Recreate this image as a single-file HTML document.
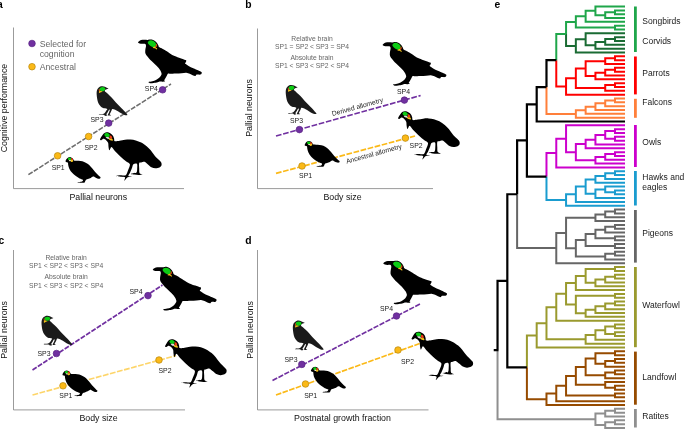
<!DOCTYPE html>
<html><head><meta charset="utf-8"><title>Figure</title>
<style>
html,body{margin:0;padding:0;background:#fff;}
body{width:685px;height:429px;overflow:hidden;font-family:"Liberation Sans",sans-serif;}
svg{display:block}
text{font-family:"Liberation Sans",sans-serif;}
.tl{font-size:8.5px;fill:#1a1a1a}
.pl{font-size:10.3px;font-weight:bold;fill:#000}
.ax{font-size:8.8px;fill:#111}
.lg{font-size:8.7px;fill:#666}
.sp{font-size:6.9px;fill:#1a1a1a}
.gt{font-size:6.75px;fill:#666}
.al{font-size:6.8px;fill:#222}
</style></head><body>
<svg width="685" height="429" viewBox="0 0 685 429">
<defs>
<g id="raven"><path d="M0.12 2.51C0.03 2.13 0.64 1.62 1.16 1.24C1.68 0.86 2.37 0.42 3.22 0.21C4.08 -0.01 5.18 -0.03 6.29 -0.05C7.40 -0.07 8.96 0.15 9.90 0.11C10.84 0.07 11.16 -0.25 11.93 -0.30C12.70 -0.35 13.63 -0.41 14.49 -0.20C15.35 0.01 16.30 0.44 17.07 0.98C17.84 1.52 18.56 2.30 19.11 3.03C19.66 3.76 20.05 4.66 20.39 5.34C20.73 6.02 20.61 6.62 21.17 7.13C21.73 7.64 22.79 7.90 23.73 8.41C24.67 8.92 25.41 9.36 26.80 10.21C28.19 11.06 30.39 12.52 32.04 13.52C33.69 14.52 34.95 15.38 36.70 16.20C38.45 17.02 40.88 17.81 42.53 18.41C44.18 19.01 45.63 19.46 46.60 19.81C47.57 20.16 48.16 20.06 48.35 20.51C48.55 20.96 47.96 21.97 47.77 22.49C47.58 23.01 46.70 23.07 47.19 23.65C47.67 24.23 49.32 25.20 50.68 25.98C52.04 26.76 53.69 27.53 55.34 28.31C56.99 29.09 59.22 30.00 60.58 30.64C61.94 31.28 62.98 31.67 63.50 32.16C64.03 32.65 63.92 33.13 63.73 33.56C63.53 33.99 63.14 34.53 62.33 34.72C61.52 34.91 59.66 34.49 58.84 34.72C58.03 34.95 58.12 36.02 57.44 36.12C56.76 36.22 55.69 35.69 54.76 35.30C53.83 34.91 52.92 34.22 51.85 33.79C50.78 33.36 49.71 32.82 48.35 32.74C46.99 32.66 45.44 33.18 43.69 33.32C41.94 33.46 39.81 33.48 37.87 33.56C35.93 33.64 33.36 33.75 32.04 33.79C30.72 33.83 30.43 33.54 29.94 33.79C29.46 34.04 29.44 34.72 29.13 35.30C28.82 35.88 28.45 36.60 28.08 37.28C27.71 37.96 27.22 38.84 26.91 39.38C26.60 39.93 26.17 40.28 26.21 40.55C26.25 40.82 27.07 40.82 27.15 41.01C27.23 41.20 27.13 41.57 26.68 41.71C26.23 41.85 25.23 41.85 24.47 41.83C23.71 41.81 22.92 41.51 22.14 41.59C21.36 41.67 20.88 42.06 19.81 42.29C18.74 42.52 17.03 42.83 15.73 42.99C14.43 43.15 12.86 43.36 12.00 43.23C11.14 43.09 10.17 42.49 10.60 42.18C11.03 41.87 13.32 41.69 14.56 41.36C15.80 41.03 16.99 40.72 18.06 40.20C19.13 39.68 20.15 38.94 20.97 38.22C21.79 37.50 22.50 36.67 22.95 35.89C23.40 35.11 23.78 34.53 23.65 33.56C23.52 32.59 22.78 31.13 22.14 30.06C21.50 28.99 20.88 28.31 19.81 27.15C18.74 25.98 16.99 24.29 15.73 23.07C14.47 21.85 13.33 20.97 12.23 19.81C11.13 18.65 9.89 17.15 9.11 16.11C8.33 15.07 7.87 14.32 7.57 13.55C7.27 12.78 7.32 12.26 7.32 11.49C7.32 10.72 7.44 9.79 7.57 8.93C7.70 8.07 8.05 7.09 8.09 6.36C8.13 5.63 8.04 5.00 7.83 4.57C7.62 4.14 7.40 3.91 6.80 3.80C6.20 3.69 5.09 3.94 4.24 3.90C3.39 3.86 2.37 3.77 1.68 3.54C0.99 3.31 0.21 2.89 0.12 2.51Z" fill="#000"/><path d="M9.88 2.77C9.80 2.17 10.14 1.62 10.65 1.24C11.16 0.86 12.15 0.51 12.96 0.47C13.77 0.43 14.75 0.60 15.52 0.98C16.29 1.36 17.13 2.13 17.58 2.77C18.02 3.41 18.23 4.18 18.19 4.82C18.15 5.46 17.81 6.21 17.32 6.62C16.83 7.03 15.99 7.32 15.26 7.28C14.53 7.24 13.64 6.77 12.96 6.36C12.28 5.95 11.67 5.42 11.16 4.82C10.65 4.22 9.96 3.37 9.88 2.77Z" fill="#0ccc14"/><path d="M18.19 3.80C18.34 3.76 18.97 4.14 19.11 4.57C19.25 5.00 19.22 5.87 19.01 6.36C18.80 6.85 18.11 7.45 17.83 7.49C17.55 7.53 17.26 7.07 17.32 6.62C17.38 6.17 18.05 5.29 18.19 4.82C18.34 4.35 18.04 3.84 18.19 3.80Z" fill="#e04a12"/><path d="M15.26 7.28C15.64 7.05 16.89 6.58 17.32 6.62C17.75 6.66 17.53 7.19 17.83 7.49C18.13 7.79 18.94 8.07 19.11 8.41C19.28 8.75 19.20 9.54 18.86 9.54C18.52 9.54 17.71 8.67 17.07 8.41C16.43 8.15 15.32 8.19 15.02 8.00C14.72 7.81 14.88 7.51 15.26 7.28Z" fill="#f2c21a"/></g>
<g id="jack"><path d="M2.14 1.30C2.53 0.99 2.92 0.59 3.54 0.37C4.16 0.15 5.09 -0.03 5.87 -0.00C6.65 0.03 7.50 0.31 8.20 0.56C8.90 0.81 9.50 1.21 10.07 1.49C10.64 1.77 11.65 1.99 11.65 2.24C11.65 2.49 10.57 2.75 10.07 2.98C9.57 3.21 8.98 3.29 8.67 3.63C8.36 3.97 7.94 4.49 8.20 5.03C8.46 5.58 9.44 6.15 10.25 6.90C11.06 7.65 12.06 8.53 13.05 9.51C14.04 10.49 15.19 11.65 16.22 12.77C17.24 13.89 18.13 15.05 19.20 16.22C20.27 17.38 21.53 18.63 22.65 19.76C23.77 20.89 24.93 22.00 25.91 23.02C26.89 24.04 27.74 25.02 28.52 25.91C29.30 26.80 30.31 27.80 30.57 28.33C30.83 28.86 30.57 29.00 30.10 29.08C29.63 29.16 28.62 29.08 27.77 28.80C26.92 28.52 26.07 28.02 24.98 27.40C23.89 26.78 22.34 25.72 21.25 25.07C20.16 24.42 19.38 23.88 18.45 23.49C17.52 23.10 16.25 22.63 15.66 22.74C15.07 22.85 15.22 23.52 14.91 24.14C14.60 24.76 14.10 25.77 13.79 26.47C13.48 27.17 12.89 27.89 13.05 28.33C13.21 28.76 15.00 28.92 14.73 29.08C14.46 29.23 12.05 29.35 11.46 29.26C10.87 29.17 11.05 28.98 11.18 28.52C11.30 28.05 11.90 27.20 12.21 26.47C12.52 25.74 13.02 24.64 13.05 24.14C13.08 23.64 12.74 23.18 12.40 23.49C12.06 23.80 11.47 25.22 11.00 26.00C10.53 26.78 9.68 27.64 9.60 28.15C9.52 28.66 10.68 28.82 10.53 29.08C10.38 29.34 9.13 29.73 8.67 29.73C8.21 29.73 8.13 29.27 7.74 29.08C7.35 28.89 7.20 28.69 6.34 28.61C5.48 28.53 3.23 28.70 2.61 28.61C1.99 28.52 1.99 28.21 2.61 28.05C3.23 27.89 5.41 27.94 6.34 27.68C7.27 27.42 7.62 27.06 8.20 26.47C8.77 25.88 9.43 24.76 9.79 24.14C10.15 23.52 10.99 23.16 10.34 22.74C9.69 22.32 7.16 22.32 5.87 21.62C4.58 20.92 3.43 19.68 2.61 18.55C1.79 17.42 1.33 16.14 0.93 14.82C0.53 13.50 0.36 11.94 0.19 10.62C0.02 9.30 -0.10 7.99 -0.09 6.90C-0.07 5.81 0.06 4.88 0.28 4.10C0.50 3.32 0.90 2.71 1.21 2.24C1.52 1.77 1.75 1.61 2.14 1.30Z" fill="#1a1a1a"/><path d="M2.70 3.00C2.66 2.49 3.22 1.82 3.73 1.46C4.24 1.10 5.10 0.87 5.78 0.85C6.46 0.83 7.36 1.04 7.83 1.36C8.30 1.68 8.60 2.26 8.60 2.75C8.60 3.24 8.26 3.91 7.83 4.29C7.40 4.67 6.67 5.01 6.03 5.05C5.39 5.09 4.54 4.88 3.98 4.54C3.42 4.20 2.74 3.51 2.70 3.00Z" fill="#0ccc14"/><path d="M2.03 3.00C2.07 2.64 2.50 2.64 2.70 2.90C2.90 3.16 3.26 4.18 3.22 4.54C3.18 4.90 2.64 5.31 2.44 5.05C2.24 4.79 1.99 3.36 2.03 3.00Z" fill="#e04a12"/><path d="M2.44 5.05C2.61 4.75 2.79 4.56 3.22 4.54C3.65 4.52 4.57 4.78 5.00 4.95C5.43 5.12 5.95 5.37 5.78 5.56C5.61 5.75 4.49 5.87 3.98 6.08C3.47 6.29 3.00 6.81 2.70 6.85C2.40 6.89 2.23 6.64 2.19 6.34C2.15 6.04 2.27 5.35 2.44 5.05Z" fill="#f2c21a"/></g>
<g id="part"><path d="M-0.00 4.29C-0.03 3.83 0.36 2.86 0.75 2.24C1.14 1.62 1.76 0.93 2.33 0.56C2.90 0.19 3.57 -0.00 4.19 -0.00C4.81 0.00 5.51 0.27 6.06 0.56C6.60 0.85 7.07 1.30 7.46 1.77C7.85 2.24 7.77 3.05 8.39 3.36C9.01 3.67 10.09 3.54 11.18 3.63C12.27 3.72 13.67 3.71 14.91 3.91C16.15 4.11 17.40 4.35 18.64 4.85C19.88 5.35 21.28 6.09 22.37 6.90C23.46 7.71 24.23 8.68 25.16 9.69C26.09 10.70 27.03 11.86 27.96 12.95C28.89 14.04 29.82 15.21 30.75 16.22C31.68 17.23 32.85 18.31 33.55 19.01C34.25 19.71 34.87 19.98 34.95 20.41C35.03 20.84 34.56 21.46 34.02 21.62C33.48 21.78 32.39 21.54 31.69 21.34C30.99 21.14 30.52 20.72 29.82 20.41C29.12 20.10 28.27 19.40 27.49 19.48C26.71 19.56 26.01 20.46 25.16 20.88C24.31 21.30 23.15 21.71 22.37 21.99C21.59 22.27 20.97 22.19 20.50 22.55C20.03 22.91 19.85 23.64 19.57 24.14C19.29 24.64 19.29 25.28 18.83 25.54C18.36 25.80 17.74 25.69 16.78 25.72C15.82 25.75 13.91 25.78 13.05 25.72C12.20 25.66 11.42 25.51 11.65 25.35C11.88 25.20 13.59 24.99 14.45 24.79C15.30 24.59 16.32 24.51 16.78 24.14C17.25 23.77 17.71 23.02 17.24 22.55C16.77 22.08 15.14 21.93 13.98 21.34C12.82 20.75 11.49 19.94 10.25 19.01C9.01 18.08 7.61 16.99 6.52 15.75C5.43 14.51 4.38 12.88 3.73 11.56C3.08 10.24 2.84 8.84 2.61 7.83C2.38 6.82 2.61 5.97 2.33 5.50C2.05 5.03 1.32 5.23 0.93 5.03C0.54 4.83 0.03 4.75 -0.00 4.29Z" fill="#000"/><path d="M2.30 1.82C2.30 1.48 2.47 1.01 2.81 0.79C3.15 0.58 3.91 0.45 4.36 0.53C4.82 0.61 5.37 0.92 5.54 1.30C5.71 1.69 5.63 2.52 5.39 2.84C5.15 3.16 4.53 3.20 4.10 3.20C3.67 3.20 3.11 3.07 2.81 2.84C2.51 2.61 2.30 2.16 2.30 1.82Z" fill="#0ccc14"/><path d="M5.54 1.30C5.77 1.07 6.61 1.28 6.92 1.45C7.23 1.62 7.42 2.07 7.38 2.33C7.34 2.59 6.97 2.91 6.66 2.99C6.35 3.08 5.73 3.12 5.54 2.84C5.35 2.56 5.31 1.53 5.54 1.30Z" fill="#f03a14"/><path d="M5.39 2.94C5.63 2.71 6.33 3.05 6.66 2.99C6.99 2.93 7.24 2.39 7.38 2.58C7.52 2.77 7.64 3.73 7.48 4.12C7.32 4.51 6.79 4.90 6.41 4.94C6.04 4.98 5.40 4.71 5.23 4.38C5.06 4.05 5.15 3.17 5.39 2.94Z" fill="#f2c21a"/><path d="M3.34 3.09C3.53 2.90 4.93 2.84 5.23 2.99C5.53 3.15 5.32 3.83 5.13 4.02C4.94 4.21 4.40 4.28 4.10 4.12C3.80 3.97 3.15 3.28 3.34 3.09Z" fill="#f5e6c8"/></g>
<g id="cur"><path d="M-0.00 6.35C0.00 5.79 0.83 4.53 1.35 3.65C1.87 2.77 2.57 1.72 3.11 1.08C3.65 0.44 4.00 0.10 4.60 -0.20C5.20 -0.50 5.91 -0.73 6.69 -0.74C7.47 -0.75 8.40 -0.61 9.26 -0.27C10.12 0.07 11.15 0.68 11.83 1.28C12.51 1.88 12.98 2.60 13.36 3.33C13.74 4.06 13.90 4.84 14.13 5.64C14.36 6.44 13.83 7.76 14.74 8.11C15.65 8.46 17.89 7.93 19.60 7.71C21.31 7.49 23.21 6.96 25.01 6.76C26.81 6.56 28.62 6.40 30.42 6.49C32.22 6.58 34.03 6.80 35.83 7.30C37.63 7.79 39.43 8.49 41.23 9.46C43.03 10.43 45.06 11.82 46.64 13.11C48.22 14.39 49.35 15.59 50.70 17.17C52.05 18.75 53.40 21.00 54.75 22.58C56.10 24.16 57.73 25.50 58.81 26.63C59.89 27.76 60.79 28.44 61.24 29.34C61.69 30.24 61.80 31.21 61.51 32.04C61.22 32.87 60.49 33.82 59.48 34.34C58.47 34.86 56.78 35.20 55.43 35.15C54.08 35.10 52.61 34.70 51.37 34.07C50.13 33.44 49.12 32.26 47.99 31.36C46.86 30.46 45.74 29.00 44.61 28.66C43.48 28.32 42.13 29.11 41.23 29.34C40.33 29.57 39.54 29.00 39.20 30.01C38.86 31.02 39.13 33.73 39.20 35.42C39.27 37.11 39.05 39.14 39.61 40.15C40.17 41.16 42.76 41.21 42.58 41.50C42.40 41.79 39.88 41.91 38.53 41.91C37.18 41.91 35.71 41.68 34.47 41.50C33.23 41.32 31.32 41.05 31.09 40.83C30.86 40.60 32.22 40.38 33.12 40.15C34.02 39.92 35.82 40.27 36.50 39.48C37.18 38.69 37.11 36.88 37.18 35.42C37.25 33.96 37.54 31.41 36.91 30.69C36.28 29.97 34.25 30.30 33.39 31.09C32.53 31.88 32.38 33.91 31.77 35.42C31.16 36.93 30.30 38.91 29.74 40.15C29.18 41.39 28.05 42.30 28.39 42.86C28.73 43.42 31.88 43.30 31.77 43.53C31.66 43.76 28.95 43.53 27.71 44.21C26.47 44.89 24.78 47.59 24.33 47.59C23.88 47.59 25.57 44.89 25.01 44.21C24.45 43.53 22.41 43.76 20.95 43.53C19.48 43.30 16.22 43.09 16.22 42.86C16.22 42.63 19.37 42.29 20.95 42.18C22.53 42.07 24.56 42.86 25.69 42.18C26.82 41.50 27.04 39.70 27.71 38.12C28.39 36.54 29.47 34.03 29.74 32.72C30.01 31.41 30.13 31.18 29.34 30.28C28.55 29.38 26.63 28.59 25.01 27.31C23.39 26.03 21.29 24.16 19.60 22.58C17.91 21.00 16.22 19.32 14.87 17.85C13.52 16.39 12.39 13.90 11.49 13.79C10.59 13.68 9.96 17.17 9.46 17.17C8.96 17.17 8.74 15.03 8.52 13.79C8.29 12.55 8.52 10.86 8.11 9.73C7.70 8.60 6.87 7.71 6.08 7.03C5.29 6.36 4.17 5.68 3.38 5.68C2.59 5.68 1.91 6.92 1.35 7.03C0.79 7.14 -0.00 6.91 -0.00 6.35Z" fill="#000"/><path d="M4.38 1.53C4.42 1.06 4.90 0.50 5.41 0.24C5.92 -0.02 6.82 -0.14 7.46 -0.01C8.10 0.12 8.88 0.58 9.25 1.01C9.62 1.44 9.75 2.12 9.67 2.56C9.59 3.00 9.25 3.47 8.75 3.68C8.25 3.89 7.29 3.94 6.69 3.84C6.09 3.74 5.54 3.45 5.15 3.07C4.77 2.69 4.34 2.00 4.38 1.53Z" fill="#0ccc14"/><path d="M9.67 2.56C9.90 2.22 10.64 2.35 11.04 2.56C11.44 2.77 11.92 3.37 12.07 3.84C12.22 4.31 12.18 5.08 11.92 5.38C11.66 5.68 10.90 5.77 10.53 5.64C10.15 5.51 9.81 5.12 9.67 4.61C9.53 4.10 9.44 2.90 9.67 2.56Z" fill="#f03a14"/><path d="M8.99 4.87C9.27 4.79 10.04 5.55 10.53 5.64C11.02 5.72 11.52 5.17 11.92 5.38C12.32 5.59 12.88 6.53 12.95 6.91C13.02 7.29 12.78 7.64 12.33 7.68C11.88 7.72 10.85 7.43 10.27 7.17C9.69 6.91 9.05 6.52 8.84 6.14C8.63 5.76 8.71 4.95 8.99 4.87Z" fill="#f2c21a"/><path d="M5.66 3.99C5.66 3.73 6.40 3.82 6.95 3.84C7.50 3.86 8.62 3.89 8.99 4.10C9.36 4.31 9.23 4.82 9.15 5.12C9.07 5.42 8.86 5.84 8.49 5.88C8.12 5.92 7.42 5.70 6.95 5.38C6.48 5.06 5.66 4.25 5.66 3.99Z" fill="#dcdcdc"/></g>
</defs>
<rect width="685" height="429" fill="#fff"/>
<!-- panel a -->
<path d="M13.5 27.5V188.6H184.0" fill="none" stroke="#7a7a7a" stroke-width="0.75"/>
<path d="M28.4 174.7L171.0 84.0" stroke="#6e6e6e" stroke-width="1.55" stroke-dasharray="5 1.4" fill="none"/>
<use href="#raven" x="137.9" y="39.9"/>
<use href="#jack" x="96.7" y="86.2"/>
<use href="#part" x="65.6" y="157.1"/>
<use href="#cur" x="100.0" y="133.1"/>
<circle cx="32.0" cy="43.5" r="3.3" fill="#7030a0" stroke="#5a2485" stroke-width="0.7"/>
<circle cx="108.7" cy="123.1" r="3.3" fill="#7030a0" stroke="#5a2485" stroke-width="0.7"/>
<circle cx="162.6" cy="89.8" r="3.3" fill="#7030a0" stroke="#5a2485" stroke-width="0.7"/>
<circle cx="32.0" cy="66.7" r="3.3" fill="#fbb917" stroke="#b8860b" stroke-width="0.7"/>
<circle cx="57.6" cy="155.8" r="3.3" fill="#fbb917" stroke="#b8860b" stroke-width="0.7"/>
<circle cx="88.6" cy="136.5" r="3.3" fill="#fbb917" stroke="#b8860b" stroke-width="0.7"/>
<text x="-2.9" y="8.0" class="pl" text-anchor="start">a</text>
<text x="7.4" y="108.0" class="ax" text-anchor="middle" transform="rotate(-90 7.4 108.0)">Cognitive performance</text>
<text x="98.3" y="199.7" class="ax" text-anchor="middle">Pallial neurons</text>
<text x="39.7" y="47.3" class="lg" text-anchor="start">Selected for</text>
<text x="39.7" y="56.6" class="lg" text-anchor="start">cognition</text>
<text x="39.7" y="69.7" class="lg" text-anchor="start">Ancestral</text>
<text x="58.2" y="170.0" class="sp" text-anchor="middle">SP1</text>
<text x="91.0" y="150.3" class="sp" text-anchor="middle">SP2</text>
<text x="97.0" y="122.0" class="sp" text-anchor="middle">SP3</text>
<text x="151.3" y="91.0" class="sp" text-anchor="middle">SP4</text>
<!-- panel b -->
<path d="M257.5 28.5V188.6H433.0" fill="none" stroke="#7a7a7a" stroke-width="0.75"/>
<path d="M276.0 136.0L420.6 95.5" stroke="#7030a0" stroke-width="1.7" stroke-dasharray="5.7 1.7" fill="none"/>
<path d="M276.0 173.4L415.0 136.0" stroke="#fbb917" stroke-width="1.7" stroke-dasharray="5.7 1.6" fill="none"/>
<use href="#raven" x="382.5" y="42.4"/>
<use href="#jack" x="285.8" y="85.0"/>
<use href="#part" x="304.7" y="141.0"/>
<use href="#cur" x="398.1" y="111.9"/>
<circle cx="299.4" cy="129.6" r="3.3" fill="#7030a0" stroke="#5a2485" stroke-width="0.7"/>
<circle cx="404.4" cy="100.1" r="3.3" fill="#7030a0" stroke="#5a2485" stroke-width="0.7"/>
<circle cx="302.0" cy="166.0" r="3.3" fill="#fbb917" stroke="#b8860b" stroke-width="0.7"/>
<circle cx="405.4" cy="138.1" r="3.3" fill="#fbb917" stroke="#b8860b" stroke-width="0.7"/>
<text x="245.2" y="8.0" class="pl" text-anchor="start">b</text>
<text x="252.4" y="108.0" class="ax" text-anchor="middle" transform="rotate(-90 252.4 108.0)">Pallial neurons</text>
<text x="342.5" y="199.7" class="ax" text-anchor="middle">Body size</text>
<text x="312.0" y="40.8" class="gt" text-anchor="middle">Relative brain</text>
<text x="312.0" y="48.9" class="gt" text-anchor="middle">SP1 = SP2 &lt; SP3 = SP4</text>
<text x="312.0" y="59.9" class="gt" text-anchor="middle">Absolute brain</text>
<text x="312.0" y="67.7" class="gt" text-anchor="middle">SP1 &lt; SP3 &lt; SP2 &lt; SP4</text>
<text x="296.5" y="123.2" class="sp" text-anchor="middle">SP3</text>
<text x="403.5" y="94.2" class="sp" text-anchor="middle">SP4</text>
<text x="305.6" y="177.7" class="sp" text-anchor="middle">SP1</text>
<text x="416.1" y="147.9" class="sp" text-anchor="middle">SP2</text>
<text x="358.0" y="109.0" class="al" text-anchor="middle" transform="rotate(-15.5 358.0 109.0)">Derived allometry</text>
<text x="374.5" y="156.0" class="al" text-anchor="middle" transform="rotate(-15.5 374.5 156.0)">Ancestral allometry</text>
<!-- panel c -->
<path d="M13.5 250.0V409.9H185.0" fill="none" stroke="#7a7a7a" stroke-width="0.75"/>
<path d="M32.5 370.0L162.5 285.0" stroke="#7030a0" stroke-width="1.65" stroke-dasharray="5 1.4" fill="none"/>
<path d="M32.5 395.0L176.0 355.6" stroke="#fdd56a" stroke-width="1.65" stroke-dasharray="5.8 1.5" fill="none"/>
<use href="#raven" x="152.7" y="267.2"/>
<use href="#jack" x="41.6" y="315.8"/>
<use href="#part" x="62.5" y="370.4"/>
<use href="#cur" x="165.0" y="340.0"/>
<circle cx="56.5" cy="353.5" r="3.3" fill="#7030a0" stroke="#5a2485" stroke-width="0.7"/>
<circle cx="148.0" cy="295.6" r="3.3" fill="#7030a0" stroke="#5a2485" stroke-width="0.7"/>
<circle cx="63.0" cy="385.8" r="3.3" fill="#fbb917" stroke="#b8860b" stroke-width="0.7"/>
<circle cx="159.0" cy="360.0" r="3.3" fill="#fbb917" stroke="#b8860b" stroke-width="0.7"/>
<text x="-1.6" y="244.0" class="pl" text-anchor="start">c</text>
<text x="7.4" y="330.0" class="ax" text-anchor="middle" transform="rotate(-90 7.4 330.0)">Pallial neurons</text>
<text x="98.5" y="421.0" class="ax" text-anchor="middle">Body size</text>
<text x="66.1" y="259.8" class="gt" text-anchor="middle">Relative brain</text>
<text x="66.1" y="268.2" class="gt" text-anchor="middle">SP1 &lt; SP2 &lt; SP3 &lt; SP4</text>
<text x="66.1" y="279.2" class="gt" text-anchor="middle">Absolute brain</text>
<text x="66.1" y="287.7" class="gt" text-anchor="middle">SP1 &lt; SP3 &lt; SP2 &lt; SP4</text>
<text x="44.0" y="356.2" class="sp" text-anchor="middle">SP3</text>
<text x="136.0" y="294.2" class="sp" text-anchor="middle">SP4</text>
<text x="65.8" y="398.2" class="sp" text-anchor="middle">SP1</text>
<text x="165.0" y="373.2" class="sp" text-anchor="middle">SP2</text>
<!-- panel d -->
<path d="M257.5 250.0V409.9H428.5" fill="none" stroke="#7a7a7a" stroke-width="0.75"/>
<path d="M272.5 380.5L420.0 304.0" stroke="#7030a0" stroke-width="1.65" stroke-dasharray="5.3 1.4" fill="none"/>
<path d="M276.0 395.0L422.5 342.5" stroke="#fbb917" stroke-width="1.65" stroke-dasharray="5.6 1.4" fill="none"/>
<use href="#raven" x="383.2" y="261.0"/>
<use href="#jack" x="292.9" y="320.6"/>
<use href="#part" x="310.9" y="366.8"/>
<use href="#cur" x="411.5" y="332.5"/>
<circle cx="301.8" cy="364.4" r="3.3" fill="#7030a0" stroke="#5a2485" stroke-width="0.7"/>
<circle cx="396.5" cy="316.0" r="3.3" fill="#7030a0" stroke="#5a2485" stroke-width="0.7"/>
<circle cx="305.5" cy="384.0" r="3.3" fill="#fbb917" stroke="#b8860b" stroke-width="0.7"/>
<circle cx="398.0" cy="350.0" r="3.3" fill="#fbb917" stroke="#b8860b" stroke-width="0.7"/>
<text x="245.2" y="244.0" class="pl" text-anchor="start">d</text>
<text x="252.6" y="330.0" class="ax" text-anchor="middle" transform="rotate(-90 252.6 330.0)">Pallial neurons</text>
<text x="342.5" y="421.0" class="ax" text-anchor="middle">Postnatal growth fraction</text>
<text x="291.0" y="362.2" class="sp" text-anchor="middle">SP3</text>
<text x="386.5" y="310.7" class="sp" text-anchor="middle">SP4</text>
<text x="310.7" y="397.7" class="sp" text-anchor="middle">SP1</text>
<text x="407.5" y="363.7" class="sp" text-anchor="middle">SP2</text>

<!-- tree -->
<text x="494.5" y="8" class="pl">e</text>
<path d="M497.53 350.06V419.34H595.43M595.43 419.34V413.59H605.22M605.22 413.59V410.72H615.01M615.01 410.72V408.81H625.00M615.01 410.72V412.64H625.00M605.22 413.59V416.47H625.00M595.43 419.34V425.09H605.22M605.22 425.09V422.21H615.01M615.01 422.21V420.30H625.00M615.01 422.21V424.13H625.00M605.22 425.09V427.96H625.00" fill="none" stroke="#8f8f8f" stroke-width="2.0" stroke-linejoin="miter" stroke-linecap="butt"/>
<path d="M517.11 194.26V248.11H556.27M556.27 248.11V233.00H566.06M566.06 233.00V217.73H595.43M595.43 217.73V214.38H605.22M605.22 214.38V211.51H615.01M615.01 211.51V209.59H625.00M615.01 211.51V213.42H625.00M605.22 214.38V217.25H625.00M595.43 217.73V221.09H625.00M566.06 233.00V248.26H575.85M575.85 248.26V240.00H585.64M585.64 240.00V234.02H595.43M595.43 234.02V229.71H605.22M605.22 229.71V226.83H615.01M615.01 226.83V224.92H625.00M615.01 226.83V228.75H625.00M605.22 229.71V232.58H625.00M595.43 234.02V238.33H615.01M615.01 238.33V236.41H625.00M615.01 238.33V240.24H625.00M585.64 240.00V245.99H615.01M615.01 245.99V244.07H625.00M615.01 245.99V247.90H625.00M575.85 248.26V256.52H605.22M605.22 256.52V253.65H615.01M615.01 253.65V251.73H625.00M615.01 253.65V255.56H625.00M605.22 256.52V259.40H625.00M556.27 248.11V263.23H625.00" fill="none" stroke="#666666" stroke-width="2.0" stroke-linejoin="miter" stroke-linecap="butt"/>
<path d="M526.90 367.29V335.40H536.69M536.69 335.40V323.30H546.48M546.48 323.30V307.22H556.27M556.27 307.22V293.76H566.06M566.06 293.76V282.98H575.85M575.85 282.98V275.92H585.64M585.64 275.92V268.97H615.01M615.01 268.97V267.06H625.00M615.01 268.97V270.89H625.00M585.64 275.92V282.86H595.43M595.43 282.86V279.51H605.22M605.22 279.51V276.64H615.01M615.01 276.64V274.72H625.00M615.01 276.64V278.55H625.00M605.22 279.51V282.38H625.00M595.43 282.86V286.21H625.00M575.85 282.98V290.04H625.00M566.06 293.76V304.53H575.85M575.85 304.53V295.79H615.01M615.01 295.79V293.88H625.00M615.01 295.79V297.71H625.00M575.85 304.53V313.27H585.64M585.64 313.27V309.68H595.43M595.43 309.68V306.33H605.22M605.22 306.33V303.45H615.01M615.01 303.45V301.54H625.00M615.01 303.45V305.37H625.00M605.22 306.33V309.20H625.00M595.43 309.68V313.03H625.00M585.64 313.27V316.86H625.00M556.27 307.22V320.69H625.00M546.48 323.30V339.37H585.64M585.64 339.37V335.06H595.43M595.43 335.06V330.27H605.22M605.22 330.27V326.44H615.01M615.01 326.44V324.52H625.00M615.01 326.44V328.35H625.00M605.22 330.27V334.10H615.01M615.01 334.10V332.19H625.00M615.01 334.10V336.02H625.00M595.43 335.06V339.85H625.00M585.64 339.37V343.68H625.00M536.69 335.40V347.51H625.00" fill="none" stroke="#9a9a2e" stroke-width="2.0" stroke-linejoin="miter" stroke-linecap="butt"/>
<path d="M526.90 367.29V399.18H546.48M546.48 399.18V393.39H556.27M556.27 393.39V385.64H566.06M566.06 385.64V375.88H575.85M575.85 375.88V366.90H585.64M585.64 366.90V358.52H595.43M595.43 358.52V353.26H615.01M615.01 353.26V351.34H625.00M615.01 353.26V355.17H625.00M595.43 358.52V363.79H605.22M605.22 363.79V360.92H615.01M615.01 360.92V359.00H625.00M615.01 360.92V362.83H625.00M605.22 363.79V366.66H625.00M585.64 366.90V375.28H605.22M605.22 375.28V372.41H615.01M615.01 372.41V370.50H625.00M615.01 372.41V374.33H625.00M605.22 375.28V378.16H625.00M575.85 375.88V384.86H605.22M605.22 384.86V381.99H625.00M605.22 384.86V387.73H615.01M615.01 387.73V385.82H625.00M615.01 387.73V389.65H625.00M566.06 385.64V395.40H615.01M615.01 395.40V393.48H625.00M615.01 395.40V397.31H625.00M556.27 393.39V401.14H625.00M546.48 399.18V404.97H625.00" fill="none" stroke="#964b00" stroke-width="2.0" stroke-linejoin="miter" stroke-linecap="butt"/>
<path d="M546.48 176.55V200.02H566.06M566.06 200.02V194.27H575.85M575.85 194.27V186.61H585.64M585.64 186.61V179.42H595.43M595.43 179.42V176.07H605.22M605.22 176.07V173.20H615.01M615.01 173.20V171.28H625.00M615.01 173.20V175.11H625.00M605.22 176.07V178.95H625.00M595.43 179.42V182.78H625.00M585.64 186.61V193.79H595.43M595.43 193.79V189.48H605.22M605.22 189.48V186.61H625.00M605.22 189.48V192.35H615.01M615.01 192.35V190.44H625.00M615.01 192.35V194.27H625.00M595.43 193.79V198.10H625.00M575.85 194.27V201.93H625.00M566.06 200.02V205.76H625.00" fill="none" stroke="#1a9ccf" stroke-width="2.0" stroke-linejoin="miter" stroke-linecap="butt"/>
<path d="M546.48 176.55V153.09H556.27M556.27 153.09V138.72H566.06M566.06 138.72V125.31H625.00M566.06 138.72V152.13H575.85M575.85 152.13V143.99H585.64M585.64 143.99V139.68H595.43M595.43 139.68V134.89H605.22M605.22 134.89V131.06H615.01M615.01 131.06V129.14H625.00M615.01 131.06V132.97H625.00M605.22 134.89V138.72H615.01M615.01 138.72V136.80H625.00M615.01 138.72V140.64H625.00M595.43 139.68V144.47H625.00M585.64 143.99V148.30H625.00M575.85 152.13V160.27H595.43M595.43 160.27V156.92H605.22M605.22 156.92V154.04H615.01M615.01 154.04V152.13H625.00M615.01 154.04V155.96H625.00M605.22 156.92V159.79H625.00M595.43 160.27V163.62H625.00M556.27 153.09V167.45H625.00" fill="none" stroke="#cc00cc" stroke-width="2.0" stroke-linejoin="miter" stroke-linecap="butt"/>
<path d="M546.48 87.08V113.94H575.85M575.85 113.94V110.23H585.64M585.64 110.23V106.63H595.43M595.43 106.63V103.28H605.22M605.22 103.28V100.41H615.01M615.01 100.41V98.49H625.00M615.01 100.41V102.33H625.00M605.22 103.28V106.16H625.00M595.43 106.63V109.99H625.00M585.64 110.23V113.82H625.00M575.85 113.94V117.65H625.00" fill="none" stroke="#ff7f3a" stroke-width="2.0" stroke-linejoin="miter" stroke-linecap="butt"/>
<path d="M556.27 60.21V86.46H566.06M566.06 86.46V78.26H575.85M575.85 78.26V68.56H585.64M585.64 68.56V61.14H605.22M605.22 61.14V58.27H615.01M615.01 58.27V56.35H625.00M615.01 58.27V60.18H625.00M605.22 61.14V64.02H625.00M585.64 68.56V75.99H595.43M595.43 75.99V72.63H605.22M605.22 72.63V69.76H615.01M615.01 69.76V67.85H625.00M615.01 69.76V71.68H625.00M605.22 72.63V75.51H625.00M595.43 75.99V79.34H625.00M575.85 78.26V87.96H605.22M605.22 87.96V85.09H615.01M615.01 85.09V83.17H625.00M615.01 85.09V87.00H625.00M605.22 87.96V90.83H625.00M566.06 86.46V94.66H625.00" fill="none" stroke="#ff0000" stroke-width="2.0" stroke-linejoin="miter" stroke-linecap="butt"/>
<path d="M566.06 33.97V45.94H575.85M575.85 45.94V39.35H585.64M585.64 39.35V33.37H625.00M585.64 39.35V45.34H595.43M595.43 45.34V41.99H605.22M605.22 41.99V39.11H615.01M615.01 39.11V37.20H625.00M615.01 39.11V41.03H625.00M605.22 41.99V44.86H625.00M595.43 45.34V48.69H625.00M575.85 45.94V52.52H625.00" fill="none" stroke="#1a6b33" stroke-width="2.0" stroke-linejoin="miter" stroke-linecap="butt"/>
<path d="M556.27 60.21V33.97H566.06M566.06 33.97V21.99H575.85M575.85 21.99V16.37H585.64M585.64 16.37V10.86H595.43M595.43 10.86V6.55H625.00M595.43 10.86V15.17H605.22M605.22 15.17V12.30H615.01M615.01 12.30V10.38H625.00M615.01 12.30V14.21H625.00M605.22 15.17V18.04H625.00M585.64 16.37V21.87H625.00M575.85 21.99V27.62H615.01M615.01 27.62V25.71H625.00M615.01 27.62V29.54H625.00" fill="none" stroke="#1fa64a" stroke-width="2.0" stroke-linejoin="miter" stroke-linecap="butt"/>
<path d="M497.53 350.06V280.78H507.32M507.32 280.78V194.26H517.11M517.11 194.26V140.41H526.90M526.90 140.41V104.28H536.69M536.69 104.28V87.08H546.48M546.48 87.08V60.21H556.27M536.69 104.28V121.48H625.00M526.90 140.41V176.55H546.48M507.32 280.78V367.29H526.90M498.43 350.06H493.73" fill="none" stroke="#000000" stroke-width="2.2" stroke-linejoin="miter" stroke-linecap="butt"/>
<rect x="634" y="6.5" width="2.8" height="45.5" fill="#1fa64a"/>
<rect x="634" y="56.5" width="2.8" height="37.9" fill="#ff0000"/>
<rect x="634" y="98.8" width="2.8" height="19.0" fill="#ff7f3a"/>
<rect x="634" y="125.0" width="2.8" height="42.0" fill="#cc00cc"/>
<rect x="634" y="171.0" width="2.8" height="34.5" fill="#1a9ccf"/>
<rect x="634" y="210.0" width="2.8" height="52.6" fill="#666666"/>
<rect x="634" y="267.0" width="2.8" height="80.2" fill="#9a9a2e"/>
<rect x="634" y="351.6" width="2.8" height="53.1" fill="#964b00"/>
<rect x="634" y="409.0" width="2.8" height="18.5" fill="#8f8f8f"/>
<text x="642.3" y="23.6" class="tl">Songbirds</text>
<text x="642.3" y="44.2" class="tl">Corvids</text>
<text x="642.3" y="76.3" class="tl">Parrots</text>
<text x="642.3" y="104.9" class="tl">Falcons</text>
<text x="642.3" y="144.8" class="tl">Owls</text>
<text x="642.3" y="180.0" class="tl">Hawks and</text>
<text x="642.3" y="189.6" class="tl">eagles</text>
<text x="642.3" y="236.4" class="tl">Pigeons</text>
<text x="642.3" y="307.6" class="tl">Waterfowl</text>
<text x="642.3" y="380.0" class="tl">Landfowl</text>
<text x="642.3" y="419.0" class="tl">Ratites</text>

</svg>
</body></html>
